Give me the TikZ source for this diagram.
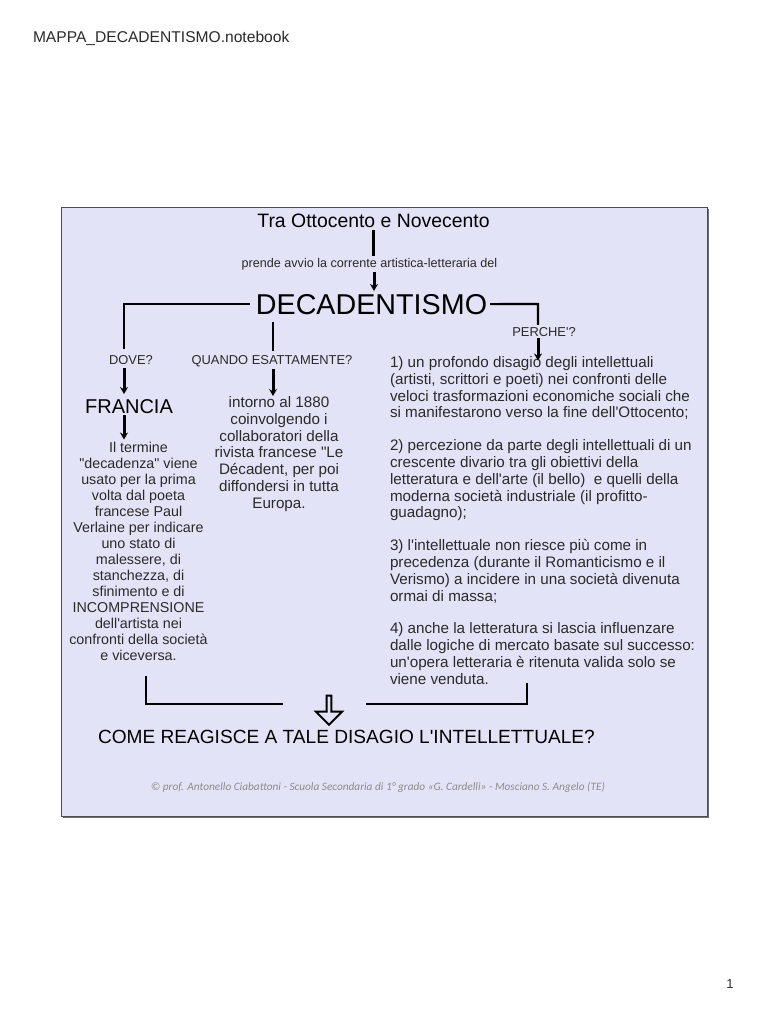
\documentclass[tikz,border=0pt]{standalone}
\usepackage{fontspec}
\setmainfont{Liberation Sans}[Ligatures=TeXOff]
\newfontfamily\notefont{Carlito}
\usetikzlibrary{arrows.meta,shapes.arrows}
\definecolor{panelfill}{HTML}{E3E3F7}
\definecolor{panelshade}{HTML}{6E6E6E}
\definecolor{soft}{HTML}{2A2A2A}
\begin{document}
\begin{tikzpicture}[x=1pt,y=-1pt,
  txt/.style = {inner sep=0pt,outer sep=0pt,text=soft},
  ask/.style = {txt,font=\fontsize{12.9}{15}\selectfont},
  line/.style = {draw=black,line width=2.2pt},
  go/.style = {draw=black,line width=3pt,-{Stealth[length=7pt,width=8pt]}},
  frame/.style = {draw=black,line width=2.8pt}]
\useasboundingbox (0,0) rectangle (768,1024);
\fill[white] (0,0) rectangle (768,1024);
\fill[panelshade] (63,209) rectangle (709,818);
\fill[panelfill,draw=black!70,line width=.8pt] (61,207) rectangle (707,816);
\node[txt,anchor=base west,font=\fontsize{15.6}{18}\selectfont] (head) at (33,43) {MAPPA\_DECADENTISMO.notebook};
\node[txt,anchor=base,font=\fontsize{13}{15}\selectfont] (pagenum) at (730,988) {1};
\node[txt,anchor=base,text=black,font=\fontsize{19.4}{22}\selectfont] (tra) at (373.5,227) {Tra Ottocento e Novecento};
\node[txt,anchor=base,font=\fontsize{12.6}{14}\selectfont] (avvio) at (369.5,267.5) {prende avvio la corrente artistica-letteraria del};
\node[txt,anchor=base,text=black,font=\fontsize{28.7}{32}\selectfont] (deca) at (371.5,314) {DECADENTISMO};
\node[ask,anchor=base] (dove) at (131,364.5) {DOVE?};
\node[ask,anchor=base] (quando) at (272,364) {QUANDO ESATTAMENTE?};
\node[ask,anchor=base] (perche) at (544,336) {PERCHE'?};
\node[txt,anchor=base,text=black,font=\fontsize{20}{23}\selectfont] (francia) at (129,413) {FRANCIA};
\node[txt,anchor=north,align=center,font=\fontsize{14.3}{16}\selectfont] (termine) at (138.5,442.5) {Il termine\\"decadenza" viene\\usato per la prima\\volta dal poeta\\francese Paul\\Verlaine per indicare\\uno stato di\\malessere, di\\stanchezza, di\\sfinimento e di\\INCOMPRENSIONE\\dell'artista nei\\confronti della società\\e viceversa.};
\node[txt,anchor=north,align=center,font=\fontsize{15.2}{16.8}\selectfont] (data) at (279,396.5) {intorno al 1880\\coinvolgendo i\\collaboratori della\\rivista francese "Le\\Décadent, per poi\\diffondersi in tutta\\Europa.};
\node[txt,anchor=north west,align=left,font=\fontsize{15.2}{16.8}\selectfont] (motivi) at (390,356.5) {1) un profondo disagio degli intellettuali\\(artisti, scrittori e poeti) nei confronti delle\\veloci trasformazioni economiche sociali che\\si manifestarono verso la fine dell'Ottocento;\\[16pt]2) percezione da parte degli intellettuali di un\\crescente divario tra gli obiettivi della\\letteratura e dell'arte (il bello)~ e quelli della\\moderna società industriale (il profitto-\\guadagno);\\[16pt]3) l'intellettuale non riesce più come in\\precedenza (durante il Romanticismo e il\\Verismo) a incidere in una società divenuta\\ormai di massa;\\[16pt]4) anche la letteratura si lascia influenzare\\dalle logiche di mercato basate sul successo:\\un'opera letteraria è ritenuta valida solo se\\viene venduta.};
\node[txt,anchor=base west,text=black,font=\fontsize{19.1}{22}\selectfont] (come) at (98,743) {COME REAGISCE A TALE DISAGIO L'INTELLETTUALE?};
\node[txt,anchor=base,text=black!45,font=\notefont\itshape\fontsize{11.3}{13}\selectfont] (copy) at (378,790) {© prof. Antonello Ciabattoni - Scuola Secondaria di 1° grado «G. Cardelli» - Mosciano S. Angelo (TE)};
\node[single arrow,shape border rotate=270,draw=black,line width=2pt,fill=panelfill,minimum height=29pt,minimum width=26pt,single arrow head extend=4.5pt,single arrow tip angle=90,inner sep=0pt] (giu) at (329,709) {};
% free ends of the connectors
\coordinate (sx) at (124,349);
\coordinate (dx) at (538,304);
\coordinate (qx) at (273,322);
\coordinate (basesx) at (146,676);
\coordinate (basedx) at (527,683);
\coordinate (fondosx) at (146,704);
\coordinate (fondodx) at (527,704);
\coordinate (finesx) at (283,704);
\coordinate (finedx) at (366,704);
\draw[line] ([yshift=-3pt]tra.south) -- ([yshift=2pt]avvio.north -| tra);
\draw[go] ([yshift=-2pt,xshift=4.5pt]avvio.south) -- ([xshift=2.5pt,yshift=3pt]deca.north);
\draw[line] ([xshift=-6pt]deca.west) -- (deca.west -| sx) -- (sx);
\draw[line] ([xshift=3pt]deca.east) -- (dx) -- ([yshift=2pt]perche.north -| dx);
\draw[line] (qx) -- ([yshift=4pt,xshift=1pt]quando.north);
\draw[go] ([yshift=-2pt,xshift=-6pt]perche.south) -- ([yshift=-4pt]motivi.north -| dx);
\draw[go] ([yshift=-3pt,xshift=-7pt]dove.south) -- ([xshift=-5pt,yshift=5pt]francia.north);
\draw[go] ([yshift=-3pt,xshift=1pt]quando.south) -- ([yshift=.5pt]data.north -| qx);
\draw[go] ([yshift=-2pt,xshift=-5pt]francia.south) -- ([xshift=-14.5pt,yshift=3pt]termine.north);
\draw[frame] (basesx) -- (fondosx) -- (finesx);
\draw[frame] (finedx) -- (fondodx) -- (basedx);
\end{tikzpicture}
\end{document}
